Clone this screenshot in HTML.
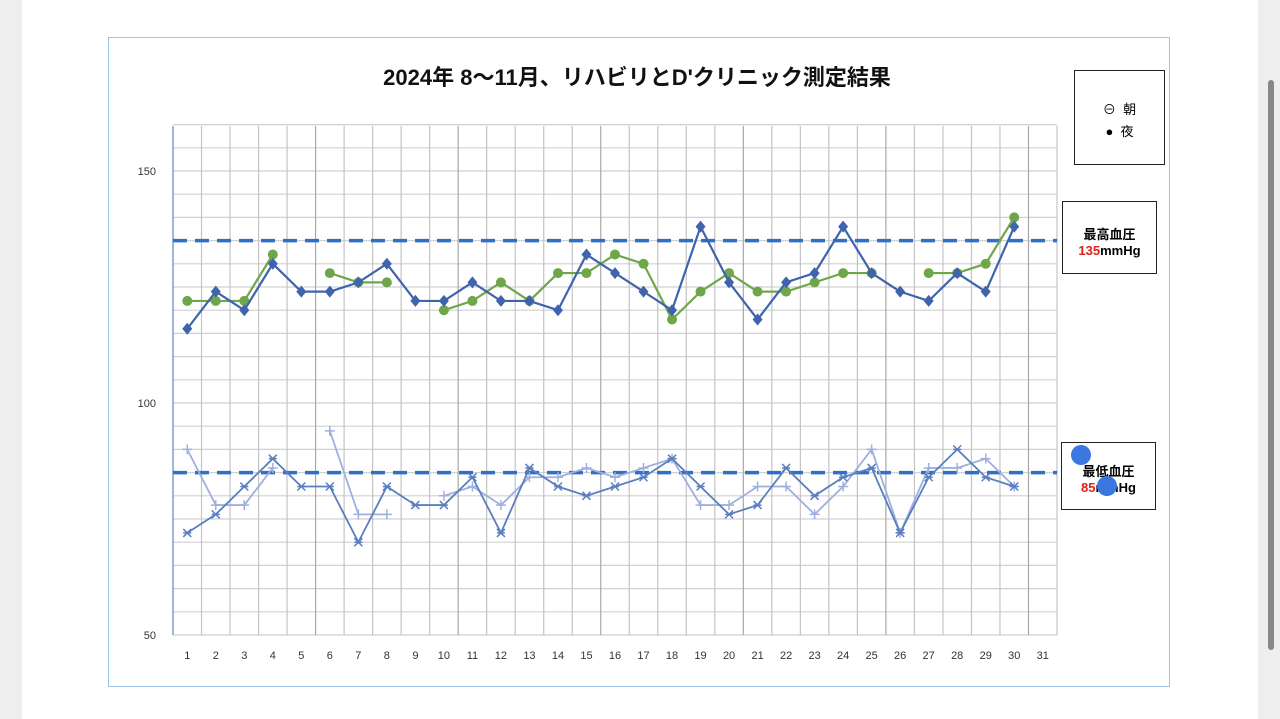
<!DOCTYPE html>
<html><head><meta charset="utf-8"><style>
body{margin:0;width:1280px;height:719px;overflow:hidden;background:#fff;font-family:"Liberation Sans","Noto Sans CJK JP",sans-serif;}
.side{position:absolute;top:0;height:719px;background:#eeeeee;}
.box{position:absolute;border:1px solid #222;background:#fff;text-align:center;font-weight:bold;font-size:13px;}
</style></head><body>
<div class="side" style="left:0;width:22px"></div>
<div class="side" style="left:1258px;width:22px"></div>
<div style="position:absolute;left:1268px;top:80px;width:6px;height:570px;background:#888;border-radius:3px"></div>
<div style="position:absolute;left:108px;top:37px;width:1060px;height:648px;border:1px solid #9dc3e6"></div>
<svg id="c" width="1280" height="719" style="position:absolute;left:0;top:0">
<text x="637" y="85" text-anchor="middle" font-size="22" font-weight="bold" fill="#111" font-family="Liberation Sans, Noto Sans CJK JP, sans-serif">2024年 8〜11月、リハビリとD'クリニック測定結果</text>
</svg>
<div class="box" style="left:1074px;top:70px;width:89px;height:93px;font-weight:normal">
<div style="margin-top:28px">⊖&nbsp;&nbsp;朝</div>
<div style="margin-top:3px">●&nbsp;&nbsp;夜</div>
</div>
<div class="box" style="left:1062px;top:201px;width:93px;height:71px"><div style="margin-top:22px">最高血圧</div><div><span style="color:#e0201b">135</span>mmHg</div></div>
<div class="box" style="left:1061px;top:442px;width:93px;height:66px"><div style="margin-top:18px">最低血圧</div><div><span style="color:#e0201b">85</span>mmHg</div></div>
<div style="position:absolute;left:1071px;top:445px;width:20px;height:20px;border-radius:50%;background:#3a77e0"></div>
<div style="position:absolute;left:1097px;top:476px;width:20px;height:20px;border-radius:50%;background:#3a77e0"></div>
<script>
const days=[1,2,3,4,5,6,7,8,9,10,11,12,13,14,15,16,17,18,19,20,21,22,23,24,25,26,27,28,29,30,31];
const yTicks=[50,100,150];
const sysMorning=[116,124,120,130,124,124,126,130,122,122,126,122,122,120,132,128,124,120,138,126,118,126,128,138,128,124,122,128,124,138];
const sysNight=[122,122,122,132,null,128,126,126,null,120,122,126,122,128,128,132,130,118,124,128,124,124,126,128,128,null,128,128,130,140];
const diaMorning=[72,76,82,88,82,82,70,82,78,78,84,72,86,82,80,82,84,88,82,76,78,86,80,84,86,72,84,90,84,82];
const diaNight=[90,78,78,86,null,94,76,76,null,80,82,78,84,84,86,84,86,88,78,78,82,82,76,82,90,72,86,86,88,82];
const targets=[135,85];
const svg=document.getElementById('c');const NS='http://www.w3.org/2000/svg';
const L=173,R=1057,T=126,B=635;
const x=d=>L+(d-0.5)*(R-L)/31;
const y=v=>403-(v-100)*4.64;
function mk(t,a,p){const e=document.createElementNS(NS,t);for(const k in a)e.setAttribute(k,a[k]);(p||svg).appendChild(e);return e;}
for(let v=50;v<=160;v+=5){const l=mk('line',{x1:L,x2:R,y1:y(v),y2:y(v),stroke:'#d0d0d0','stroke-width':1.2});

}
for(let k=0;k<=31;k++){const xx=L+k*(R-L)/31;const l=mk('line',{x1:xx,x2:xx,y1:T,y2:B,stroke:k%5==0?'#a8a8a8':'#c4c4c4','stroke-width':1.2});

}
const ax=mk('line',{x1:L,x2:L,y1:T,y2:B,stroke:'#7fa7d8','stroke-width':1.5});


yTicks.forEach(v=>{const t=mk('text',{x:L-17,y:y(v)+4,'text-anchor':'end','font-size':11,fill:'#333'});t.textContent=v;

});
days.forEach(d=>{const t=mk('text',{x:x(d),y:659,'text-anchor':'middle','font-size':11,fill:'#333'});t.textContent=d;

});
function series(vals,color,marker,name,w){
 let segs=[],cur=[];vals.forEach((v,i)=>{if(v==null){if(cur.length)segs.push(cur);cur=[];}else cur.push([x(i+1),y(v)]);});if(cur.length)segs.push(cur);
 const g=mk('g',{});
 segs.forEach(s=>{if(s.length>1)mk('polyline',{points:s.map(p=>p.join(',')).join(' '),fill:'none',stroke:color,'stroke-width':w},g);});
 vals.forEach((v,i)=>{if(v==null)return;const cx=x(i+1),cy=y(v);let m;
  if(marker=='d')m=mk('polygon',{points:`${cx},${cy-6} ${cx+5},${cy} ${cx},${cy+6} ${cx-5},${cy}`,fill:color},g);
  else if(marker=='c')m=mk('circle',{cx,cy,r:5,fill:color},g);
  else if(marker=='x')m=mk('path',{d:`M${cx-4},${cy-4}L${cx+4},${cy+4}M${cx-4},${cy+4}L${cx+4},${cy-4}M${cx-4},${cy}L${cx+4},${cy}`,stroke:color,'stroke-width':1.5},g);
  else m=mk('path',{d:`M${cx-5},${cy}L${cx+5},${cy}M${cx},${cy-5}L${cx},${cy+5}`,stroke:color,'stroke-width':1.5},g);
  
  });
}
targets.forEach(v=>{const l=mk('line',{x1:L,x2:R,y1:y(v),y2:y(v),stroke:'#2e6fc8','stroke-width':3.5,'stroke-dasharray':'14,8'});

});
series(diaNight,'#9fb0de','p','diastolic-night',1.8);
series(diaMorning,'#5a7fbf','x','diastolic-morning',1.8);
series(sysNight,'#6fa64a','c','systolic-night',2.2);
series(sysMorning,'#3f63ac','d','systolic-morning',2.2);
</script>
</body></html>
